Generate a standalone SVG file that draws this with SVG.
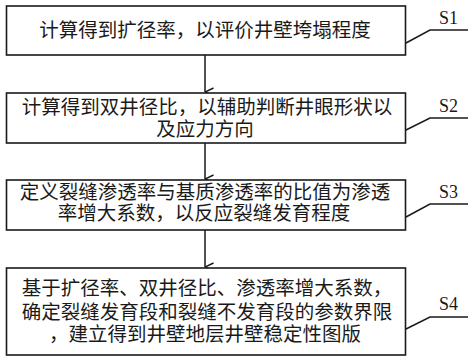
<svg xmlns="http://www.w3.org/2000/svg" width="474" height="361" viewBox="0 0 474 361">
<defs>
<style>
.box{fill:#fff;stroke:#1a1a1a;stroke-width:1.6}
.t{font-family:"Liberation Serif","Noto Sans CJK SC","Noto Sans CJK JP",sans-serif;font-size:19.5px;fill:#1a1a1a;text-anchor:middle}
.lbl{font-family:"Liberation Serif",serif;font-size:18px;fill:#1a1a1a}
.ln{fill:none;stroke:#1a1a1a;stroke-width:1.5}
</style>
<marker id="arr" viewBox="0 0 10 10" refX="5" refY="9.5" markerWidth="10" markerHeight="10" markerUnits="userSpaceOnUse" orient="auto-start-reverse">
<path d="M1,1 L5,9.5 L9,1" fill="none" stroke="#1a1a1a" stroke-width="1.4"/>
</marker>
</defs>
<rect width="474" height="361" fill="#fff"/>
<g id="connectors">
<line class="ln" x1="205" y1="55" x2="205" y2="92" marker-end="url(#arr)"/>
<line class="ln" x1="205" y1="143" x2="205" y2="179" marker-end="url(#arr)"/>
<line class="ln" x1="205" y1="230" x2="205" y2="267" marker-end="url(#arr)"/>
<polyline class="ln" points="406,43 430,30 468,30"/>
<polyline class="ln" points="406,130 430,118 468,118"/>
<polyline class="ln" points="406,217 430,204 468,204"/>
<polyline class="ln" points="406,329 430,317 468,317"/>
</g>
<g id="S1">
<rect class="box" x="6.5" y="6" width="399" height="49"/>
<text class="t" x="205" y="37">计算得到扩径率，以评价井壁垮塌程度</text>
<text class="lbl" x="439" y="24">S1</text>
</g>
<g id="S2">
<rect class="box" x="6.5" y="93" width="399" height="50"/>
<text class="t" x="207" y="114">计算得到双井径比，以辅助判断井眼形状以</text>
<text class="t" x="205" y="136">及应力方向</text>
<text class="lbl" x="439" y="112">S2</text>
</g>
<g id="S3">
<rect class="box" x="6.5" y="180" width="399" height="50"/>
<text class="t" x="205" y="199">定义裂缝渗透率与基质渗透率的比值为渗透</text>
<text class="t" x="204" y="220">率增大系数，以反应裂缝发育程度</text>
<text class="lbl" x="439" y="198">S3</text>
</g>
<g id="S4">
<rect class="box" x="6.5" y="268" width="399" height="87"/>
<text class="t" x="207" y="295">基于扩径率、双井径比、渗透率增大系数，</text>
<text class="t" x="207" y="319">确定裂缝发育段和裂缝不发育段的参数界限</text>
<text class="t" x="205" y="341">，建立得到井壁地层井壁稳定性图版</text>
<text class="lbl" x="439" y="310">S4</text>
</g>
</svg>
